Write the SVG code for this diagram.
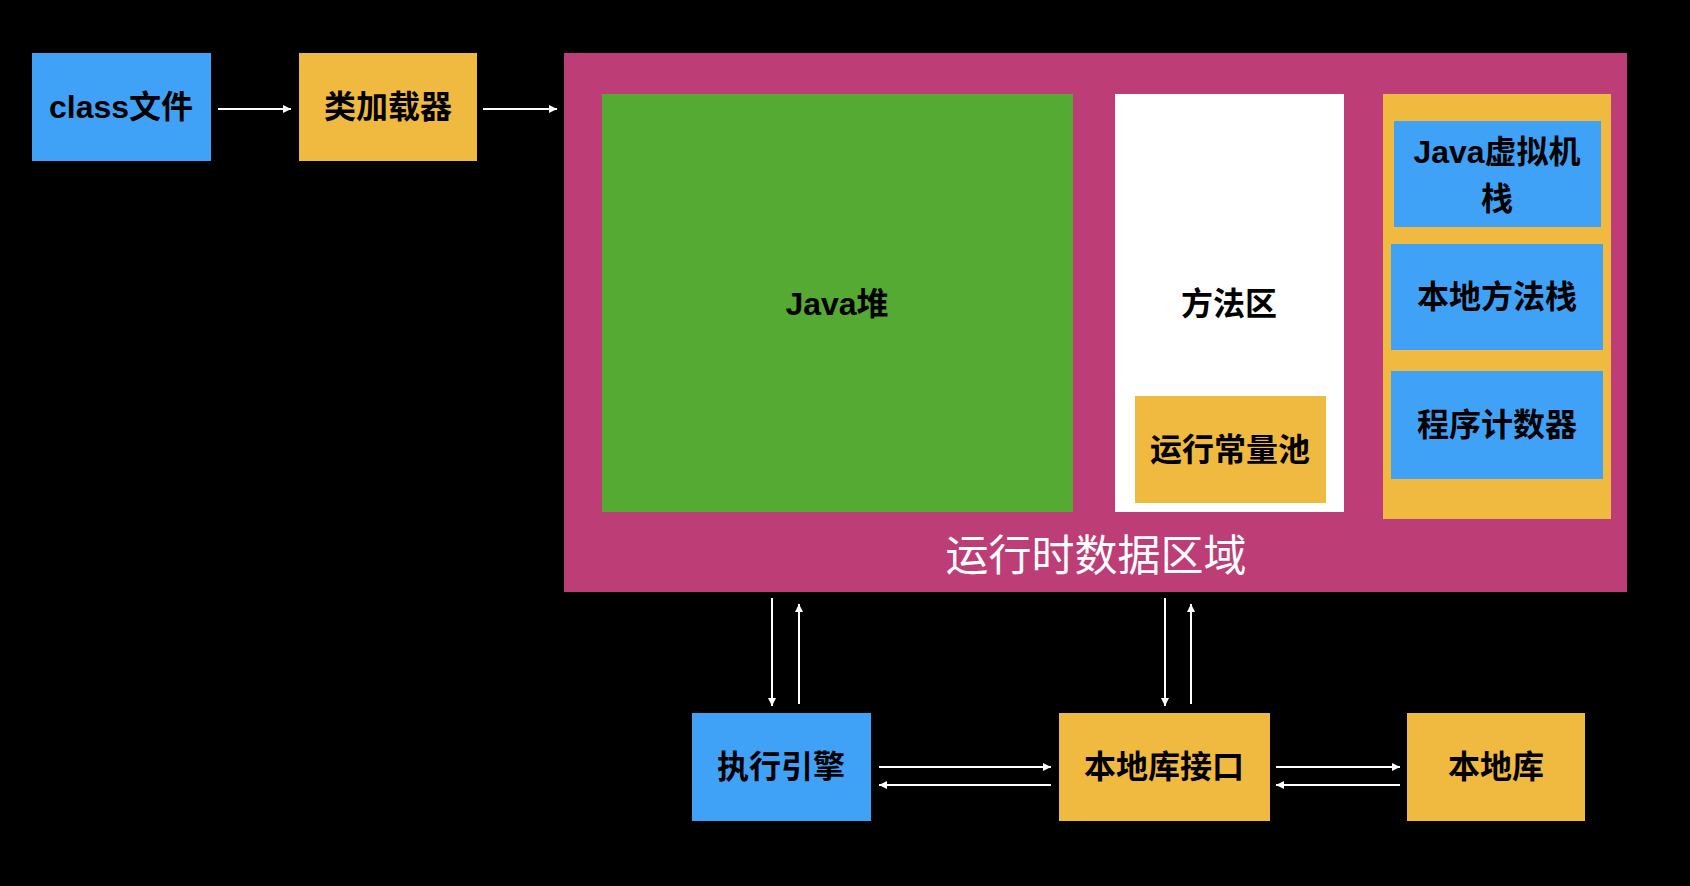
<svg xmlns="http://www.w3.org/2000/svg" width="1690" height="886" viewBox="0 0 1690 886">
<defs>
<marker id="ah" viewBox="0 0 10 10" refX="10" refY="5" markerWidth="8" markerHeight="8" markerUnits="userSpaceOnUse" orient="auto"><path d="M0,0L10,5L0,10z" fill="#fff"/></marker>
<style>
text{font-family:"Liberation Sans","Noto Sans CJK SC",sans-serif;font-weight:bold;font-size:32px;text-anchor:middle;dominant-baseline:central;fill:#000}
.b{fill:#3fa2f7}.o{fill:#f0b93f}
.c line{stroke:#fff;stroke-width:2;marker-end:url(#ah)}
</style>
</defs>
<rect width="1690" height="886" fill="#000"/>
<g id="class"><rect class="b" x="32" y="53" width="179" height="108"/><text x="121" y="107">class文件</text></g>
<g id="loader"><rect class="o" x="299" y="53" width="178" height="108"/><text x="388" y="107">类加载器</text></g>
<g id="runtime"><rect fill="#bd3d76" x="564" y="53" width="1063" height="539"/><text x="1096" y="556" style="fill:#fff;font-weight:normal;font-size:43px">运行时数据区域</text></g>
<g id="heap"><rect fill="#55aa33" x="602" y="94" width="471" height="418"/><text x="837" y="304">Java堆</text></g>
<g id="method"><rect fill="#fff" x="1115" y="94" width="229" height="418"/><text x="1229" y="304">方法区</text></g>
<g id="pool"><rect class="o" x="1135" y="396" width="191" height="107"/><text x="1230" y="450">运行常量池</text></g>
<g id="panel"><rect class="o" x="1383" y="94" width="228" height="425"/></g>
<g id="jvmstack"><rect class="b" x="1394" y="121" width="207" height="106"/><text x="1497" y="152">Java虚拟机</text><text x="1497" y="199">栈</text></g>
<g id="nstack"><rect class="b" x="1391" y="244" width="212" height="106"/><text x="1497" y="297">本地方法栈</text></g>
<g id="pc"><rect class="b" x="1391" y="371" width="212" height="108"/><text x="1497" y="425">程序计数器</text></g>
<g id="engine"><rect class="b" x="692" y="713" width="179" height="108"/><text x="781" y="767">执行引擎</text></g>
<g id="jni"><rect class="o" x="1059" y="713" width="211" height="108"/><text x="1164" y="767">本地库接口</text></g>
<g id="lib"><rect class="o" x="1407" y="713" width="178" height="108"/><text x="1496" y="767">本地库</text></g>
<g class="c" id="connectors">
<line x1="218" y1="109" x2="291" y2="109"/>
<line x1="483" y1="109" x2="557" y2="109"/>
<line x1="772" y1="598" x2="772" y2="706"/>
<line x1="799" y1="704" x2="799" y2="604"/>
<line x1="1165" y1="598" x2="1165" y2="706"/>
<line x1="1191" y1="704" x2="1191" y2="604"/>
<line x1="879" y1="767" x2="1051" y2="767"/>
<line x1="1051" y1="785" x2="879" y2="785"/>
<line x1="1276" y1="767" x2="1400" y2="767"/>
<line x1="1400" y1="785" x2="1276" y2="785"/>
</g>
</svg>
